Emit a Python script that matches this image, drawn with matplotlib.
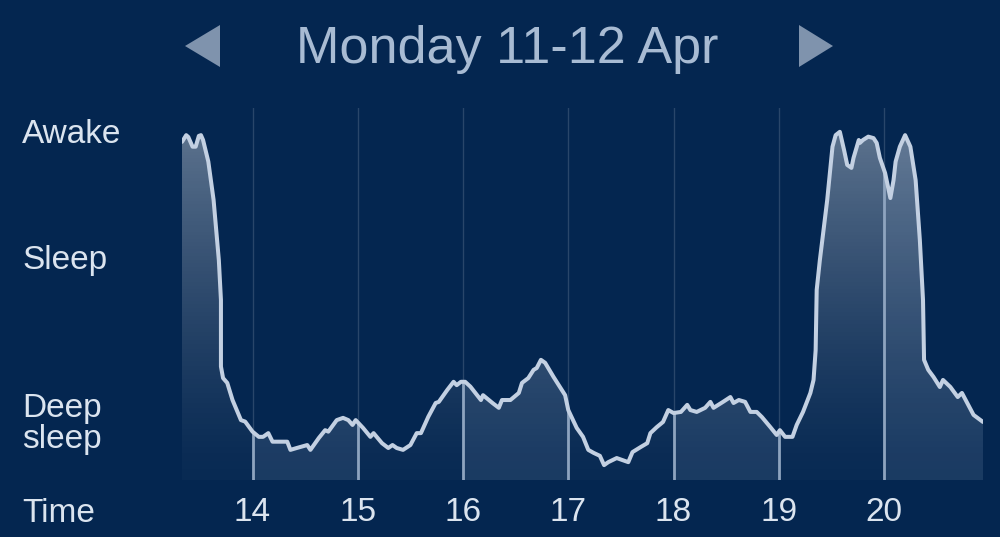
import numpy as np
import matplotlib
matplotlib.use("Agg")
import matplotlib.pyplot as plt
from matplotlib.patches import Polygon

plt.rcParams['font.family'] = ['Liberation Sans', 'DejaVu Sans']

# ---- data (time in hours, movement level 0-100) ----
hours = [13.33, 13.37, 13.39, 13.43, 13.46, 13.49, 13.51, 13.53, 13.58, 13.63,
         13.68, 13.70, 13.70, 13.72, 13.76, 13.81, 13.89, 13.93, 14.00, 14.06,
         14.10, 14.15, 14.19, 14.27, 14.33, 14.36, 14.42, 14.52, 14.55, 14.63,
         14.69, 14.72, 14.80, 14.86, 14.91, 14.95, 14.98, 15.05, 15.12, 15.15,
         15.23, 15.29, 15.33, 15.37, 15.43, 15.50, 15.56, 15.60, 15.67, 15.74,
         15.77, 15.85, 15.91, 15.94, 15.98, 16.02, 16.07, 16.17, 16.19, 16.28,
         16.34, 16.37, 16.45, 16.53, 16.56, 16.62, 16.67, 16.70, 16.74, 16.78,
         16.86, 16.97, 17.00, 17.08, 17.14, 17.19, 17.24, 17.30, 17.34, 17.38,
         17.46, 17.51, 17.57, 17.61, 17.69, 17.75, 17.78, 17.84, 17.90, 17.95,
         18.00, 18.07, 18.13, 18.16, 18.22, 18.30, 18.35, 18.38, 18.47, 18.54,
         18.57, 18.62, 18.68, 18.73, 18.79, 18.84, 18.92, 18.98, 19.01, 19.06,
         19.13, 19.17, 19.23, 19.30, 19.33, 19.35, 19.36, 19.39, 19.46, 19.51,
         19.54, 19.58, 19.62, 19.65, 19.69, 19.71, 19.76, 19.77, 19.80, 19.85,
         19.90, 19.93, 19.96, 20.01, 20.06, 20.09, 20.11, 20.15, 20.20, 20.25,
         20.30, 20.34, 20.37, 20.38, 20.42, 20.47, 20.53, 20.56, 20.63, 20.70,
         20.74, 20.79, 20.85, 20.94]
level = [90.9, 92.7, 92.2, 89.6, 89.6, 92.5, 92.7, 91.4, 85.6, 75.3,
         59.1, 48.4, 30.5, 27.4, 26.1, 21.5, 16.1, 15.7, 13.0, 11.6,
         11.6, 12.6, 10.3, 10.3, 10.3, 8.1, 8.6, 9.4, 8.1, 11.3,
         13.4, 13.0, 16.1, 16.7, 16.1, 14.8, 16.1, 14.0, 11.6, 12.6,
         9.9, 8.6, 9.4, 8.6, 8.1, 9.4, 12.6, 12.6, 17.0, 20.7,
         21.0, 24.2, 26.4, 25.5, 26.4, 26.4, 25.1, 21.5, 22.8, 20.7,
         19.4, 21.5, 21.5, 23.4, 26.1, 27.4, 29.6, 30.1, 32.3, 31.5,
         27.7, 22.8, 18.8, 14.0, 11.6, 8.1, 7.3, 6.5, 4.0, 4.8,
         5.9, 5.4, 4.8, 7.5, 8.9, 9.9, 12.6, 14.2, 15.6, 18.8,
         18.0, 18.3, 20.2, 18.8, 18.3, 19.4, 21.0, 19.4, 21.0, 22.3,
         20.7, 21.5, 21.0, 18.3, 18.3, 16.9, 14.2, 12.1, 13.4, 11.6,
         11.6, 14.8, 18.3, 23.4, 26.9, 34.9, 51.1, 59.1, 75.3, 89.6,
         92.7, 93.6, 88.7, 84.7, 83.9, 86.6, 91.4, 90.6, 91.4, 92.3,
         91.9, 90.6, 86.6, 82.5, 75.8, 80.6, 85.6, 89.6, 92.7, 89.6,
         80.6, 64.5, 48.4, 32.3, 29.6, 27.7, 25.0, 26.9, 25.0, 22.3,
         23.4, 20.7, 17.5, 15.6]
hour_ticks = [14, 15, 16, 17, 18, 19, 20]
hour_labels = ["14", "15", "16", "17", "18", "19", "20"]
shaded_bands = [(14, 15), (16, 17), (18, 19), (20, 21)]
state_labels = ["Awake", "Sleep", "Deep\nsleep"]
state_levels = [93, 59, 15]
title = "Monday 11-12 Apr"

# ---- style ----
BG = "#042650"
LINE = "#c3d0e2"
TXT = "#dbe4ef"
TITLE_C = "#a8bbd3"
ARROW_C = "#7f93ad"

W, H = 1000, 537
fig = plt.figure(figsize=(W / 100, H / 100), dpi=100, facecolor=BG)
ax = fig.add_axes([182 / W, 1 - 480 / H, (983 - 182) / W, (480 - 108) / H])
ax.set_facecolor(BG)
x0, x1 = hours[0], hours[-1]
ax.set_xlim(x0, x1)
ax.set_ylim(0, 100)
for s in ax.spines.values():
    s.set_visible(False)

# clip polygon under the curve
verts = [(x0, 0)] + list(zip(hours, level)) + [(x1, 0)]
clip = Polygon(verts, closed=True, transform=ax.transData,
               facecolor="none", edgecolor="none")
ax.add_patch(clip)

# vertical gradient fill
n = 256
lv = np.linspace(0, 100, n)
alpha = 0.02 + 0.34 * np.clip(lv / 95, 0, 1) ** 1.3
grad = np.zeros((n, 1, 4))
grad[..., 0] = 1.0
grad[..., 1] = 1.0
grad[..., 2] = 1.0
grad[:, 0, 3] = alpha
im = ax.imshow(grad, extent=[x0, x1, 0, 100], origin="lower",
               aspect="auto", interpolation="bilinear", zorder=1)
im.set_clip_path(clip)

# alternating hour bands under curve
for a, b in shaded_bands:
    r = ax.axvspan(a, min(b, x1), color="#9fb6d4", alpha=0.12, lw=0, zorder=1.2)
    r.set_clip_path(clip)

# hour grid lines
for h in hour_ticks:
    ax.axvline(h, color="#ffffff", alpha=0.15, lw=1.0, zorder=1.5)
    bl = ax.axvline(h, color="#8ea4bf", lw=2.0, zorder=1.6)
    bl.set_clip_path(clip)

# curve
ax.plot(hours, level, color=LINE, lw=2.9, solid_joinstyle="round",
        solid_capstyle="round", zorder=3)

# x ticks
ax.set_xticks(hour_ticks)
ax.set_xticklabels(hour_labels, fontsize=24, color=TXT)
ax.tick_params(axis="x", length=0, pad=12)
ax.set_yticks([])

# y state labels
for lab, lvl in zip(state_labels, state_levels):
    ypix = 480 - lvl * (480 - 108) / 100
    fig.text(22 / W, 1 - ypix / H, lab, fontsize=24, color=TXT,
             ha="left", va="center", linespacing=1.0)
fig.text(22 / W, 1 - 513 / H, "Time", fontsize=24, color=TXT,
         ha="left", va="center")

# title and arrows
fig.text(507 / W, 1 - 50 / H, title, fontsize=37.5, color=TITLE_C,
         ha="center", va="center")
left_tri = Polygon([(185 / W, 1 - 46 / H), (220 / W, 1 - 25 / H), (220 / W, 1 - 67 / H)],
                   closed=True, transform=fig.transFigure, facecolor=ARROW_C, edgecolor="none")
right_tri = Polygon([(833 / W, 1 - 46 / H), (799 / W, 1 - 25 / H), (799 / W, 1 - 67 / H)],
                    closed=True, transform=fig.transFigure, facecolor=ARROW_C, edgecolor="none")
fig.patches.extend([left_tri, right_tri])

fig.savefig("out.png", dpi=100, facecolor=BG)
